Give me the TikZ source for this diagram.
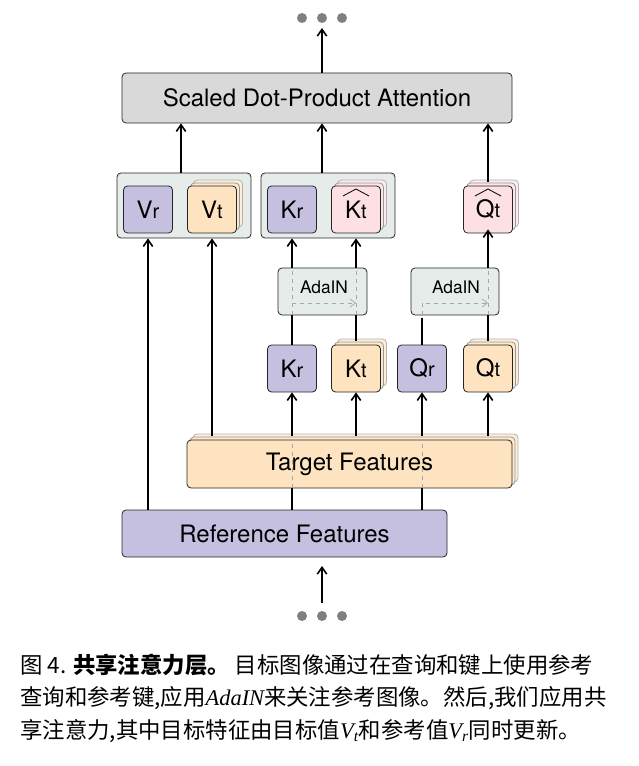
\documentclass[tikz,border=0pt]{standalone}
\usepackage{fontspec}
\setmainfont{TeX Gyre Heros}
\newfontfamily\cjk{Noto Sans CJK SC}
\newfontfamily\serifl{Liberation Serif}
\usetikzlibrary{arrows.meta}
\definecolor{cpur}{HTML}{C5BFE0}
\definecolor{cpea}{HTML}{FDE3C0}
\definecolor{cpnk}{HTML}{FCE0E3}
\definecolor{cgrp}{HTML}{E6ECEA}
\definecolor{catt}{HTML}{D9D9D9}
\tikzset{
 bx/.style={draw=black!85,line width=0.6pt,rounded corners=3pt,inner sep=0pt},
 arr/.style={-{Straight Barb[length=5pt,width=7pt]},line width=1.2pt},
 ln/.style={line width=1.2pt},
 dsh/.style={gray!70,dashed,line width=0.5pt},
 dot/.style={circle,fill=black!50,minimum size=7.5pt,inner sep=0pt},
 hat/.style={line width=0.6pt},
}
\newcommand\stk[7]{%
 \node[bx,fill=#6!60,draw=black!30,minimum width=#4,minimum height=#5] at (#2+6,#3-6) {};
 \node[bx,fill=#6!80,draw=black!40,minimum width=#4,minimum height=#5] at (#2+3,#3-3) {};
 \node[bx,fill=#6,minimum width=#4,minimum height=#5] (#1) at (#2,#3) {#7};}
\newcommand\sm[1]{{\fontsize{15pt}{15pt}\selectfont #1}}
\begin{document}
\begin{tikzpicture}[x=0.75pt,y=-0.75pt,font=\fontsize{18pt}{18pt}\selectfont]
\useasboundingbox (0,0) rectangle (638,766);
\foreach \i [count=\k] in {302,322,342}{\node[dot] (t\k) at (\i,18) {}; \node[dot] (b\k) at (\i,616) {};}
\node[bx,fill=catt,minimum width=292.5pt,minimum height=37.5pt] (att) at (317,98) {\fontsize{18pt}{18pt}\selectfont Scaled Dot-Product Attention};
\node[bx,fill=cgrp,minimum width=100.5pt,minimum height=48.75pt] (g1) at (184,205.5) {};
\node[bx,fill=cgrp,minimum width=100.5pt,minimum height=48.75pt] (g2) at (328,205.5) {};
\node[bx,fill=cpur,minimum width=36.75pt,minimum height=35.25pt] (vr) at (148,209.5) {V\sm{r}};
\stk{vt}{212}{209.5}{36.75pt}{35.25pt}{cpea}{V\sm{t}}
\node[bx,fill=cpur,minimum width=36.75pt,minimum height=35.25pt] (krh) at (292,209.5) {K\sm{r}};
\stk{kth}{356}{209.5}{36.75pt}{35.25pt}{cpnk}{\raisebox{-3pt}{K\sm{t}}}
\stk{qth}{488}{209.5}{36.75pt}{35.25pt}{cpnk}{\raisebox{-3pt}{Q\sm{t}}}
\draw[hat] (343,196) -- (356,189) -- (369,196);
\draw[hat] (475,196) -- (488,189) -- (501,196);
\node[bx,fill=cgrp,minimum width=66.75pt,minimum height=35.25pt] (ad1) at (322.5,291.5) {};
\node[bx,fill=cgrp,minimum width=66pt,minimum height=35.25pt] (ad2) at (455,291.5) {};
\node[font=\fontsize{13pt}{13pt}\selectfont] (adt1) at (324,287) {AdaIN};
\node[font=\fontsize{13pt}{13pt}\selectfont] (adt2) at (456,287) {AdaIN};
\node[bx,fill=cpur,minimum width=36.75pt,minimum height=35.25pt] (kr) at (292,368.5) {K\sm{r}};
\stk{kt}{356}{368.5}{36.75pt}{35.25pt}{cpea}{K\sm{t}}
\node[bx,fill=cpur,minimum width=36.75pt,minimum height=35.25pt] (qr) at (422,368.5) {Q\sm{r}};
\stk{qt}{488}{368.5}{36.75pt}{35.25pt}{cpea}{Q\sm{t}}
\stk{tf}{349.5}{464}{243.75pt}{36pt}{cpea}{Target Features}
\node[bx,fill=cpur,minimum width=243.75pt,minimum height=35.25pt] (rf) at (284.5,533.5) {Reference Features};
\coordinate (topend) at (322,28);
\coordinate (botstart) at (322,603);
\draw[arr] (322,73) -- (topend);
\draw[arr] (botstart) -- (322,566);
\draw[arr] (g1.north -| 181,0) -- (att.south -| 181,0);
\draw[arr] (g2.north -| 322,0) -- (att.south -| 322,0);
\draw[arr] ([yshift=3pt]qth.north) -- (att.south -| qth.north);
\draw[arr] (rf.north -| vr) -- (g1.south -| vr);
\draw[arr] ([yshift=3pt]tf.north -| vt) -- (g1.south -| vt);
\draw[ln] (kr.north) -- (ad1.south -| kr);
\draw[dsh] (ad1.south -| kr) -- (ad1.north -| kr);
\draw[arr] (ad1.north -| kr) -- (g2.south -| kr);
\draw[ln] ([yshift=3pt]kt.north) -- (ad1.south -| kt);
\draw[dsh] (ad1.south -| kt) -- (ad1.north -| kt);
\draw[arr] (ad1.north -| kt) -- (g2.south -| kt);
\draw[dsh,-{Straight Barb[length=4pt,width=6pt]}] (292,303) -- (356,303);
\draw[ln] (qr.north) -- ([yshift=-2pt]ad2.south -| qr);
\draw[dsh,-{Straight Barb[length=4pt,width=6pt]}] (ad2.south -| qr) -- (422,303) -- (488,303);
\draw[ln] ([yshift=3pt]qt.north) -- (ad2.south -| qt);
\draw[dsh] (ad2.south -| qt) -- (ad2.north -| qt);
\draw[arr] (ad2.north -| qt) -- ([yshift=3pt]qth.south);
\draw[ln] (rf.north -| kr) -- (tf.south -| kr);
\draw[dsh] (tf.south -| kr) -- (tf.north -| kr);
\draw[arr] ([yshift=3pt]tf.north -| kr) -- (kr.south);
\draw[arr] ([yshift=3pt]tf.north -| kt) -- (kt.south);
\draw[ln] (rf.north -| qr) -- (tf.south -| qr);
\draw[dsh] (tf.south -| qr) -- (tf.north -| qr);
\draw[arr] ([yshift=3pt]tf.north -| qr) -- (qr.south);
\draw[arr] ([yshift=3pt]tf.north -| qt) -- (qt.south);
\begin{scope}[every node/.style={anchor=west,inner sep=0pt,font=\cjk\fontsize{16.8pt}{16.8pt}\selectfont}]
\node (c1) at (20,665) {图 4. \textbf{共享注意力层。} 目标图像通过在查询和键上使用参考};
\node (c2) at (20,698) {查询和参考键,应用{\serifl\itshape AdaIN}来关注参考图像。然后,我们应用共};
\node (c3) at (20,731) {享注意力,其中目标特征由目标值{\serifl\itshape V\textsubscript{t}}和参考值{\serifl\itshape V\textsubscript{r}}同时更新。};
\end{scope}
\end{tikzpicture}
\end{document}
